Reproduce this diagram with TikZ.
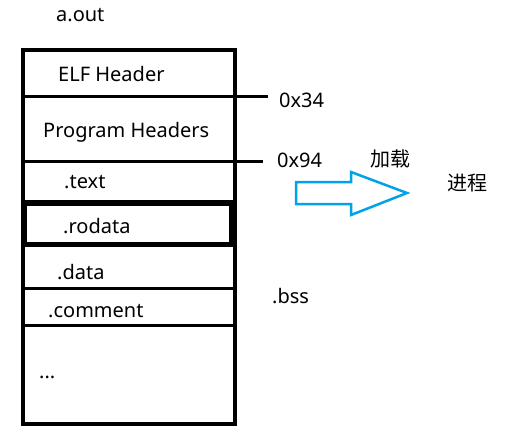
\documentclass[tikz,border=0pt]{standalone}
\usepackage{fontspec}
\setmainfont{Noto Sans}
\newfontfamily\cjk{Noto Sans CJK SC}
\usetikzlibrary{calc}
\definecolor{loadblue}{RGB}{0,162,232}
\tikzset {sect/.style={draw,line width=3pt,anchor=north west,inner sep=0pt,outer sep=0pt,minimum width=212pt},
  lbl/.style={anchor=base west,inner sep=0pt,font=\fontsize{20}{24}\selectfont}}

\begin{document}
\begin{tikzpicture}[x=1pt,y=-1pt]
\useasboundingbox (0,0) rectangle (511,439);

% Sections of a.out
\node[sect,minimum height=46pt] (elf) at (23,50) {};
\node[sect,minimum height=65.5pt] (phdr) at (23,96) {};
\node[sect,minimum height=39.5pt] (text) at (23,161.5) {};
\node[sect,minimum height=43pt] (data) at (23,245) {};
\node[sect,minimum height=37pt] (comment) at (23,288) {};
\node[sect,minimum height=99pt] (rest) at (23,325) {};
\node[sect,line width=5pt,minimum width=207pt,minimum height=41.5pt] (rodata) at (24,203) {};

% Outer frame
\draw [line width=4pt] (elf.north west) rectangle (rest.south east);

% Labels of the sections
\node[lbl] (name) at (56,21.5) {a.out};
\node[lbl] at (58,81) {ELF Header};
\node[lbl] at (43,137) {Program Headers};
\node[lbl] at (64,188) {.text};
\node[lbl] at (63,233) {.rodata};
\node[lbl] at (57,279) {.data};
\node[lbl] at (48,317) {.comment};
\node[lbl] at (39,378) {...};

% Offsets
\coordinate (m34) at (268,96);
\coordinate (m94) at (263,161.5);
\draw [line width=3pt] (elf.south east) -- (m34);
\draw [line width=3pt] (phdr.south east) -- (m94);
\node[lbl] (o34) at (279,107) {0x34};
\node[lbl] (o94) at (277,167) {0x94};
\node[lbl] (bss) at (272,303) {.bss};

% Load arrow
\draw [loadblue,line width=2.5pt] (296,182) -- (351,182) -- (351,172) -- (407,193)
  -- (351,215) -- (351,204) -- (296,204) -- cycle;
\node[lbl,font=\fontsize{20}{24}\cjk] (load) at (370,166) {加载};
\node[lbl,font=\fontsize{20}{24}\cjk] (proc) at (447,190) {进程};
\end{tikzpicture}
\end{document}
